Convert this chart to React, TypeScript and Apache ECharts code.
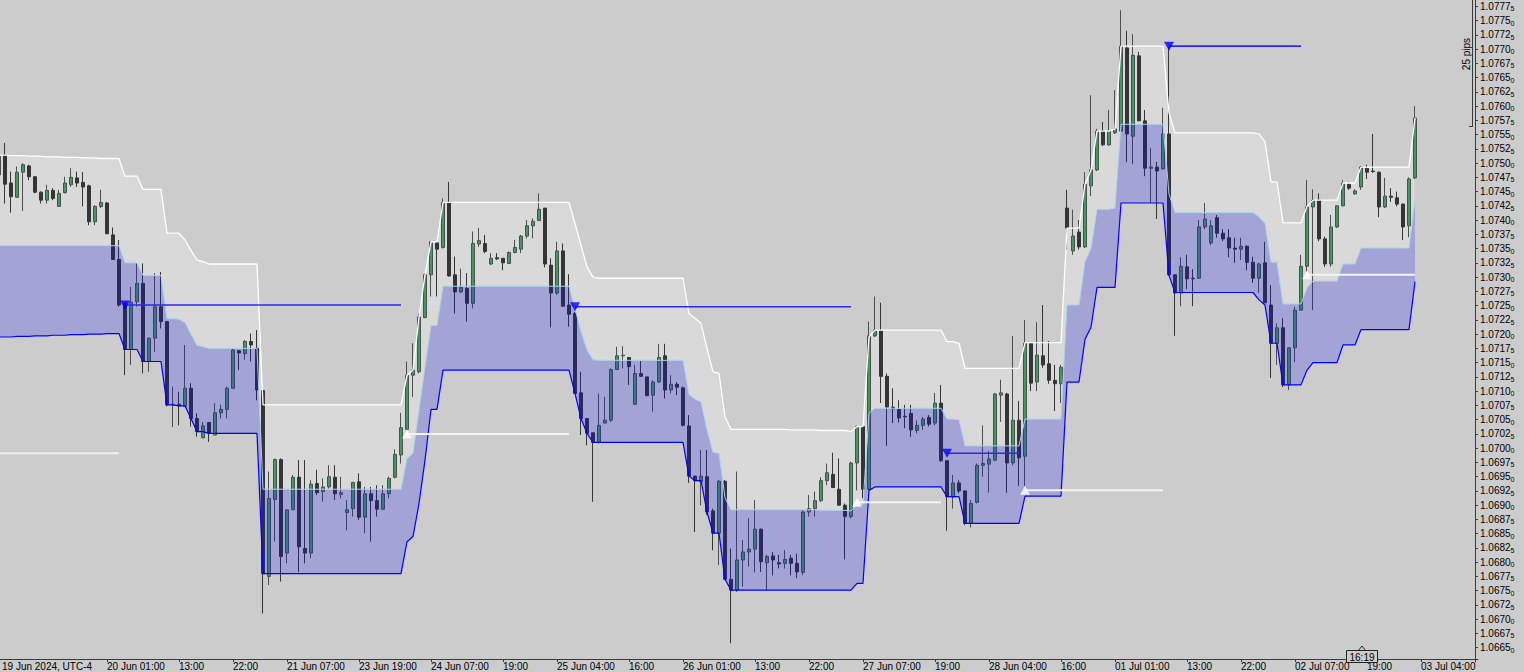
import React, { useEffect, useRef } from "react";
import * as echarts from "echarts";

// Trading sessions (UTC-4): [day, first hour, last hour]
const SESSIONS: [string, number, number][] = [
  ["19 Jun", 7, 23], ["20 Jun", 0, 23], ["21 Jun", 0, 16], ["23 Jun", 17, 23],
  ["24 Jun", 0, 23], ["25 Jun", 0, 23], ["26 Jun", 0, 23], ["27 Jun", 0, 23],
  ["28 Jun", 0, 16], ["30 Jun", 17, 23], ["01 Jul", 0, 23], ["02 Jul", 0, 23], ["03 Jul", 0, 13],
];

const TICK_BARS = [0, 18, 30, 39, 48, 60, 72, 84, 93, 105, 114, 126, 135, 144, 156, 165, 177, 186, 198, 207, 216, 228, 237];
const TICK_LABELS = [
  "19 Jun 2024, UTC-4", "20 Jun 01:00", "13:00", "22:00", "21 Jun 07:00", "23 Jun 19:00",
  "24 Jun 07:00", "19:00", "25 Jun 04:00", "16:00", "26 Jun 01:00", "13:00", "22:00",
  "27 Jun 07:00", "19:00", "28 Jun 04:00", "16:00", "01 Jul 01:00", "13:00", "22:00",
  "02 Jul 07:00", "19:00", "03 Jul 04:00",
];

const OPEN = [
  1.07479,1.07514,1.07465,1.07440,1.07484,1.07495,1.07476,1.07449,1.07435,1.07452,
  1.07424,1.07448,1.07462,1.07474,1.07466,1.07460,1.07397,1.07424,1.07430,1.07374,
  1.07331,1.07254,1.07173,1.07257,1.07289,1.07152,1.07193,1.07248,1.07222,1.07076,
  1.07077,1.07073,1.07105,1.07052,1.07018,1.07045,1.07023,1.07062,1.07068,1.07105,
  1.07171,1.07166,1.07187,1.07175,1.07101,1.06775,1.06910,1.06980,1.06816,1.06892,
  1.06949,1.06824,1.06816,1.06938,1.06924,1.06932,1.06949,1.06919,1.06887,1.06894,
  1.06941,1.06879,1.06920,1.06908,1.06893,1.06920,1.06949,1.06988,1.07033,1.07128,
  1.07134,1.07229,1.07304,1.07360,1.07352,1.07431,1.07304,1.07274,1.07280,1.07254,
  1.07358,1.07359,1.07323,1.07334,1.07333,1.07324,1.07343,1.07349,1.07372,1.07390,
  1.07399,1.07421,1.07321,1.07272,1.07346,1.07251,1.07236,1.07097,1.07052,1.07027,
  1.07010,1.07044,1.07049,1.07138,1.07162,1.07159,1.07077,1.07131,1.07125,1.07093,
  1.07116,1.07162,1.07102,1.07112,1.07106,1.07039,1.06951,1.06941,1.06950,1.06890,
  1.06851,1.06942,1.06770,1.06751,1.06804,1.06818,1.06823,1.06858,1.06799,1.06811,
  1.06799,1.06798,1.06807,1.06798,1.06782,1.06888,1.06894,1.06908,1.06943,1.06954,
  1.06928,1.06900,1.06880,1.06974,1.07038,1.06928,1.07197,1.07206,1.07126,1.07072,
  1.07068,1.07056,1.07061,1.07031,1.07040,1.07054,1.07044,1.07079,1.06978,1.06914,
  1.06939,1.06925,1.06868,1.06905,1.06970,1.06972,1.06979,1.07093,1.07095,1.06974,
  1.07049,1.06986,1.07184,1.07116,1.07162,1.07148,1.07119,1.07113,1.07421,1.07346,
  1.07379,1.07353,1.07460,1.07488,1.07556,1.07532,1.07553,1.07556,1.07702,1.07547,
  1.07688,1.07574,1.07491,1.07493,1.07490,1.07551,1.07304,1.07272,1.07318,1.07298,
  1.07298,1.07388,1.07360,1.07404,1.07377,1.07369,1.07351,1.07349,1.07354,1.07326,
  1.07298,1.07325,1.07251,1.07184,1.07211,1.07111,1.07176,1.07242,1.07319,1.07423,
  1.07435,1.07367,1.07323,1.07388,1.07425,1.07463,1.07446,1.07458,1.07491,1.07486,
  1.07484,1.07423,1.07442,1.07439,1.07428,1.07390,1.07474,
];
const HIGH = [
  1.07523,1.07535,1.07485,1.07494,1.07500,1.07497,1.07477,1.07450,1.07462,1.07456,
  1.07453,1.07476,1.07491,1.07485,1.07484,1.07462,1.07426,1.07453,1.07432,1.07387,
  1.07365,1.07255,1.07283,1.07324,1.07324,1.07193,1.07307,1.07309,1.07222,1.07108,
  1.07099,1.07181,1.07114,1.07061,1.07046,1.07046,1.07079,1.07076,1.07108,1.07175,
  1.07172,1.07190,1.07201,1.07207,1.07102,1.06959,1.06982,1.06982,1.06892,1.06953,
  1.06979,1.06979,1.06944,1.06962,1.06947,1.06970,1.06970,1.06950,1.06909,1.06941,
  1.06956,1.06932,1.06932,1.06935,1.06935,1.06950,1.06998,1.07062,1.07152,1.07184,
  1.07236,1.07307,1.07362,1.07362,1.07438,1.07467,1.07336,1.07315,1.07307,1.07380,
  1.07386,1.07374,1.07342,1.07342,1.07333,1.07345,1.07365,1.07374,1.07400,1.07403,
  1.07447,1.07421,1.07333,1.07362,1.07359,1.07305,1.07239,1.07134,1.07052,1.07027,
  1.07096,1.07090,1.07140,1.07178,1.07179,1.07160,1.07146,1.07153,1.07125,1.07119,
  1.07183,1.07183,1.07128,1.07116,1.07108,1.07058,1.06951,1.06997,1.06997,1.06894,
  1.06944,1.06944,1.06824,1.06959,1.06839,1.06877,1.06909,1.06859,1.06813,1.06818,
  1.06813,1.06821,1.06813,1.06815,1.06892,1.06918,1.06924,1.06949,1.06973,1.06992,
  1.06982,1.06903,1.06976,1.07040,1.07040,1.07222,1.07266,1.07255,1.07131,1.07105,
  1.07084,1.07076,1.07076,1.07049,1.07055,1.07058,1.07097,1.07111,1.06979,1.06953,
  1.06944,1.06926,1.06909,1.06973,1.07040,1.06995,1.07097,1.07120,1.07097,1.07197,
  1.07083,1.07225,1.07185,1.07221,1.07251,1.07188,1.07146,1.07146,1.07453,1.07418,
  1.07400,1.07484,1.07619,1.07560,1.07572,1.07593,1.07628,1.07768,1.07732,1.07726,
  1.07695,1.07593,1.07526,1.07502,1.07597,1.07704,1.07304,1.07335,1.07339,1.07314,
  1.07400,1.07430,1.07400,1.07409,1.07384,1.07384,1.07369,1.07369,1.07356,1.07336,
  1.07325,1.07362,1.07286,1.07219,1.07228,1.07177,1.07248,1.07339,1.07470,1.07454,
  1.07447,1.07371,1.07409,1.07426,1.07470,1.07467,1.07454,1.07495,1.07497,1.07551,
  1.07485,1.07474,1.07456,1.07450,1.07429,1.07475,1.07600,
];
const LOW = [
  1.07474,1.07429,1.07413,1.07439,1.07416,1.07470,1.07447,1.07429,1.07429,1.07435,
  1.07424,1.07447,1.07458,1.07458,1.07424,1.07391,1.07391,1.07421,1.07376,1.07330,
  1.07248,1.07128,1.07146,1.07248,1.07131,1.07134,1.07169,1.07210,1.07073,1.07037,
  1.07040,1.07073,1.07038,1.07020,1.07018,1.07011,1.07023,1.07052,1.07052,1.07105,
  1.07137,1.07155,1.07152,1.07084,1.06710,1.06760,1.06836,1.06766,1.06798,1.06892,
  1.06783,1.06798,1.06807,1.06918,1.06906,1.06929,1.06909,1.06912,1.06856,1.06880,
  1.06874,1.06851,1.06836,1.06880,1.06892,1.06912,1.06947,1.06973,1.07032,1.07090,
  1.07131,1.07228,1.07266,1.07266,1.07350,1.07301,1.07236,1.07272,1.07222,1.07245,
  1.07353,1.07342,1.07321,1.07330,1.07312,1.07323,1.07342,1.07342,1.07368,1.07368,
  1.07399,1.07317,1.07212,1.07269,1.07248,1.07213,1.07096,1.07023,1.07005,1.06906,
  1.07008,1.07044,1.07046,1.07137,1.07140,1.07111,1.07076,1.07125,1.07092,1.07064,
  1.07114,1.07087,1.07096,1.07093,1.07038,1.06939,1.06853,1.06900,1.06883,1.06821,
  1.06795,1.06770,1.06658,1.06748,1.06757,1.06792,1.06782,1.06783,1.06751,1.06777,
  1.06789,1.06789,1.06777,1.06772,1.06777,1.06880,1.06880,1.06906,1.06935,1.06930,
  1.06900,1.06805,1.06877,1.06926,1.06912,1.06926,1.07195,1.07079,1.07004,1.07044,
  1.07045,1.07035,1.07020,1.07026,1.07032,1.07038,1.07040,1.06976,1.06855,1.06894,
  1.06921,1.06865,1.06861,1.06903,1.06950,1.06922,1.06977,1.07046,1.06922,1.06970,
  1.06934,1.06934,1.07100,1.07100,1.07141,1.07113,1.07065,1.07079,1.07348,1.07339,
  1.07348,1.07351,1.07442,1.07486,1.07530,1.07530,1.07551,1.07554,1.07502,1.07498,
  1.07574,1.07477,1.07430,1.07402,1.07488,1.07302,1.07197,1.07249,1.07279,1.07249,
  1.07297,1.07384,1.07356,1.07369,1.07363,1.07335,1.07325,1.07330,1.07312,1.07290,
  1.07272,1.07255,1.07123,1.07146,1.07107,1.07102,1.07151,1.07242,1.07309,1.07242,
  1.07363,1.07318,1.07318,1.07386,1.07424,1.07453,1.07444,1.07453,1.07472,1.07483,
  1.07405,1.07421,1.07432,1.07424,1.07365,1.07370,1.07472,
];
const CLOSE = [
  1.07512,1.07463,1.07441,1.07484,1.07497,1.07476,1.07449,1.07435,1.07452,1.07438,
  1.07447,1.07465,1.07475,1.07465,1.07458,1.07397,1.07424,1.07431,1.07376,1.07331,
  1.07251,1.07173,1.07256,1.07289,1.07152,1.07193,1.07248,1.07222,1.07076,1.07077,
  1.07074,1.07105,1.07052,1.07029,1.07039,1.07026,1.07062,1.07068,1.07105,1.07172,
  1.07167,1.07187,1.07181,1.07102,1.06780,1.06912,1.06980,1.06810,1.06892,1.06949,
  1.06827,1.06816,1.06937,1.06922,1.06932,1.06950,1.06920,1.06922,1.06892,1.06940,
  1.06879,1.06920,1.06908,1.06893,1.06920,1.06947,1.06989,1.07036,1.07128,1.07137,
  1.07230,1.07304,1.07362,1.07349,1.07431,1.07302,1.07274,1.07282,1.07254,1.07359,
  1.07364,1.07345,1.07333,1.07332,1.07325,1.07343,1.07352,1.07372,1.07390,1.07398,
  1.07419,1.07323,1.07272,1.07346,1.07249,1.07235,1.07096,1.07052,1.07026,1.07010,
  1.07040,1.07049,1.07138,1.07162,1.07163,1.07143,1.07131,1.07126,1.07092,1.07116,
  1.07159,1.07102,1.07112,1.07107,1.07040,1.06951,1.06943,1.06951,1.06888,1.06851,
  1.06942,1.06770,1.06751,1.06804,1.06818,1.06823,1.06858,1.06801,1.06810,1.06804,
  1.06797,1.06805,1.06798,1.06783,1.06888,1.06894,1.06908,1.06943,1.06957,1.06931,
  1.06900,1.06880,1.06974,1.07038,1.06928,1.07197,1.07207,1.07126,1.07072,1.07069,
  1.07053,1.07055,1.07032,1.07040,1.07051,1.07042,1.07079,1.06978,1.06915,1.06939,
  1.06925,1.06868,1.06903,1.06970,1.06973,1.06981,1.07095,1.07097,1.06974,1.07049,
  1.06983,1.07184,1.07114,1.07163,1.07146,1.07119,1.07113,1.07142,1.07386,1.07372,
  1.07353,1.07463,1.07488,1.07556,1.07532,1.07556,1.07560,1.07705,1.07551,1.07689,
  1.07574,1.07491,1.07493,1.07486,1.07551,1.07304,1.07272,1.07319,1.07297,1.07297,
  1.07388,1.07402,1.07390,1.07377,1.07367,1.07351,1.07349,1.07354,1.07326,1.07298,
  1.07323,1.07255,1.07184,1.07211,1.07111,1.07176,1.07242,1.07319,1.07423,1.07435,
  1.07367,1.07323,1.07388,1.07425,1.07465,1.07456,1.07451,1.07493,1.07484,1.07485,
  1.07423,1.07442,1.07440,1.07428,1.07388,1.07472,1.07579,
];

const UPPER = [
  1.07514,1.07514,1.07513,1.07513,1.07513,1.07512,1.07512,1.07512,1.07511,1.07511,
  1.07511,1.07510,1.07510,1.07510,1.07509,1.07509,1.07509,1.07508,1.07508,1.07508,
  1.07508,1.07477,1.07477,1.07477,1.07454,1.07454,1.07454,1.07454,1.07377,1.07377,
  1.07377,1.07365,1.07347,1.07330,1.07327,1.07323,1.07323,1.07323,1.07323,1.07323,
  1.07323,1.07323,1.07323,1.07323,1.07076,1.07076,1.07076,1.07076,1.07076,1.07076,
  1.07076,1.07076,1.07076,1.07076,1.07076,1.07076,1.07076,1.07076,1.07076,1.07076,
  1.07076,1.07076,1.07076,1.07076,1.07076,1.07076,1.07076,1.07076,1.07128,1.07137,
  1.07230,1.07304,1.07362,1.07362,1.07431,1.07431,1.07431,1.07431,1.07431,1.07431,
  1.07431,1.07431,1.07431,1.07431,1.07431,1.07431,1.07431,1.07431,1.07431,1.07431,
  1.07431,1.07431,1.07431,1.07431,1.07431,1.07431,1.07394,1.07356,1.07318,1.07300,
  1.07298,1.07298,1.07298,1.07298,1.07298,1.07298,1.07298,1.07298,1.07298,1.07298,
  1.07298,1.07298,1.07298,1.07298,1.07298,1.07236,1.07228,1.07219,1.07175,1.07134,
  1.07131,1.07055,1.07033,1.07033,1.07033,1.07033,1.07033,1.07033,1.07033,1.07033,
  1.07033,1.07033,1.07032,1.07032,1.07032,1.07032,1.07032,1.07031,1.07031,1.07031,
  1.07031,1.07031,1.07029,1.07038,1.07038,1.07195,1.07207,1.07207,1.07207,1.07207,
  1.07207,1.07207,1.07207,1.07207,1.07207,1.07207,1.07207,1.07207,1.07187,1.07187,
  1.07184,1.07140,1.07140,1.07140,1.07140,1.07140,1.07140,1.07140,1.07140,1.07140,
  1.07140,1.07185,1.07185,1.07185,1.07185,1.07185,1.07185,1.07185,1.07386,1.07386,
  1.07386,1.07463,1.07488,1.07556,1.07556,1.07556,1.07560,1.07705,1.07705,1.07705,
  1.07705,1.07705,1.07705,1.07705,1.07705,1.07588,1.07553,1.07553,1.07553,1.07553,
  1.07553,1.07553,1.07553,1.07553,1.07553,1.07553,1.07553,1.07553,1.07553,1.07553,
  1.07551,1.07537,1.07467,1.07467,1.07395,1.07395,1.07395,1.07395,1.07424,1.07435,
  1.07435,1.07435,1.07435,1.07435,1.07465,1.07465,1.07465,1.07493,1.07493,1.07493,
  1.07493,1.07493,1.07493,1.07493,1.07493,1.07493,1.07579,
];
const MID = [
  1.07355,1.07355,1.07355,1.07355,1.07355,1.07355,1.07355,1.07355,1.07355,1.07355,
  1.07355,1.07355,1.07355,1.07355,1.07355,1.07355,1.07355,1.07355,1.07355,1.07355,
  1.07355,1.07325,1.07325,1.07325,1.07303,1.07303,1.07303,1.07303,1.07227,1.07227,
  1.07226,1.07220,1.07200,1.07180,1.07178,1.07175,1.07175,1.07175,1.07175,1.07175,
  1.07175,1.07175,1.07175,1.07175,1.06928,1.06928,1.06928,1.06928,1.06928,1.06928,
  1.06928,1.06928,1.06928,1.06928,1.06928,1.06928,1.06928,1.06928,1.06928,1.06928,
  1.06928,1.06928,1.06928,1.06928,1.06928,1.06928,1.06928,1.06928,1.06982,1.06991,
  1.07067,1.07142,1.07215,1.07215,1.07284,1.07284,1.07284,1.07284,1.07284,1.07284,
  1.07284,1.07284,1.07284,1.07284,1.07284,1.07284,1.07284,1.07284,1.07284,1.07284,
  1.07284,1.07284,1.07284,1.07284,1.07284,1.07284,1.07245,1.07204,1.07172,1.07155,
  1.07154,1.07154,1.07154,1.07154,1.07154,1.07154,1.07154,1.07154,1.07154,1.07154,
  1.07154,1.07154,1.07154,1.07154,1.07154,1.07094,1.07086,1.07081,1.07032,1.06993,
  1.06991,1.06913,1.06892,1.06892,1.06892,1.06892,1.06892,1.06892,1.06892,1.06892,
  1.06892,1.06892,1.06892,1.06892,1.06892,1.06892,1.06892,1.06891,1.06891,1.06891,
  1.06891,1.06891,1.06890,1.06901,1.06901,1.07061,1.07070,1.07070,1.07070,1.07070,
  1.07070,1.07070,1.07070,1.07070,1.07070,1.07070,1.07070,1.07070,1.07051,1.07051,
  1.07050,1.07004,1.07004,1.07004,1.07004,1.07004,1.07004,1.07004,1.07004,1.07004,
  1.07004,1.07051,1.07051,1.07051,1.07051,1.07051,1.07051,1.07051,1.07251,1.07251,
  1.07251,1.07327,1.07350,1.07419,1.07419,1.07419,1.07421,1.07568,1.07568,1.07568,
  1.07568,1.07568,1.07568,1.07568,1.07568,1.07446,1.07413,1.07413,1.07413,1.07413,
  1.07413,1.07413,1.07413,1.07413,1.07413,1.07413,1.07413,1.07413,1.07413,1.07413,
  1.07406,1.07394,1.07326,1.07326,1.07253,1.07253,1.07253,1.07253,1.07281,1.07293,
  1.07293,1.07293,1.07293,1.07293,1.07323,1.07323,1.07323,1.07351,1.07351,1.07351,
  1.07351,1.07351,1.07351,1.07351,1.07351,1.07351,1.07436,
];
const LOWER = [
  1.07195,1.07195,1.07195,1.07196,1.07196,1.07196,1.07197,1.07197,1.07197,1.07198,
  1.07198,1.07198,1.07199,1.07199,1.07199,1.07200,1.07200,1.07200,1.07201,1.07201,
  1.07201,1.07173,1.07173,1.07173,1.07152,1.07152,1.07152,1.07152,1.07076,1.07076,
  1.07074,1.07074,1.07052,1.07029,1.07029,1.07026,1.07026,1.07026,1.07026,1.07026,
  1.07026,1.07026,1.07026,1.07026,1.06780,1.06780,1.06780,1.06780,1.06780,1.06780,
  1.06780,1.06780,1.06780,1.06780,1.06780,1.06780,1.06780,1.06780,1.06780,1.06780,
  1.06780,1.06780,1.06780,1.06780,1.06780,1.06780,1.06780,1.06780,1.06836,1.06845,
  1.06903,1.06979,1.07068,1.07068,1.07137,1.07137,1.07137,1.07137,1.07137,1.07137,
  1.07137,1.07137,1.07137,1.07137,1.07137,1.07137,1.07137,1.07137,1.07137,1.07137,
  1.07137,1.07137,1.07137,1.07137,1.07137,1.07137,1.07096,1.07052,1.07026,1.07010,
  1.07010,1.07010,1.07010,1.07010,1.07010,1.07010,1.07010,1.07010,1.07010,1.07010,
  1.07010,1.07010,1.07010,1.07010,1.07010,1.06951,1.06943,1.06943,1.06888,1.06851,
  1.06851,1.06770,1.06751,1.06751,1.06751,1.06751,1.06751,1.06751,1.06751,1.06751,
  1.06751,1.06751,1.06751,1.06751,1.06751,1.06751,1.06751,1.06751,1.06751,1.06751,
  1.06751,1.06751,1.06751,1.06763,1.06763,1.06926,1.06932,1.06932,1.06932,1.06932,
  1.06932,1.06932,1.06932,1.06932,1.06932,1.06932,1.06932,1.06932,1.06915,1.06915,
  1.06915,1.06868,1.06868,1.06868,1.06868,1.06868,1.06868,1.06868,1.06868,1.06868,
  1.06868,1.06916,1.06916,1.06916,1.06916,1.06916,1.06916,1.06916,1.07116,1.07116,
  1.07116,1.07191,1.07212,1.07282,1.07282,1.07282,1.07282,1.07430,1.07430,1.07430,
  1.07430,1.07430,1.07430,1.07430,1.07430,1.07303,1.07273,1.07273,1.07273,1.07273,
  1.07273,1.07273,1.07273,1.07273,1.07273,1.07273,1.07273,1.07273,1.07273,1.07273,
  1.07260,1.07251,1.07184,1.07184,1.07111,1.07111,1.07111,1.07111,1.07137,1.07150,
  1.07150,1.07150,1.07150,1.07150,1.07181,1.07181,1.07181,1.07208,1.07208,1.07208,
  1.07208,1.07208,1.07208,1.07208,1.07208,1.07208,1.07292,
];

// Signal lines: [from bar, to bar, price]
const SELL_SIGNALS: [number, number, number][] = [
  [21, 67, 1.07251], [96, 142, 1.07248], [158, 170, 1.06991], [195, 217, 1.07705],
];
const BUY_SIGNALS: [number, number, number][] = [
  [68, 95, 1.07025], [143, 157, 1.06905], [171, 194, 1.06926], [218, 236, 1.07304],
];
const BUY_TAIL: [number, number, number] = [0, 20, 1.06991];

const CATEGORIES: string[] = [];
SESSIONS.forEach(([d, a, b]) => {
  for (let h = a; h <= b; h++) CATEGORIES.push(`${d} ${String(h).padStart(2, "0")}:00`);
});

const FONT = "Liberation Sans";
const BG = "#cccccc";
// the chart div is shifted so that the plot may start slightly off-page
const DX = 4;
const DY = 8;

export default function App() {
  const ref = useRef<HTMLDivElement>(null);
  useEffect(() => {
    const chart = echarts.init(ref.current!, null, { renderer: "svg", width: 1524 + DX, height: 672 + DY });
    const labelMap = new Map<string, string>();
    TICK_BARS.forEach((b, j) => labelMap.set(CATEGORIES[b], TICK_LABELS[j]));
    const isTick = (i: number) => TICK_BARS.includes(i);
    const candles = OPEN.map((o, i) => [o, CLOSE[i], LOW[i], HIGH[i]]);
    const grayTop = UPPER.map((u, i) => u - MID[i]);
    const blueTop = MID.map((m, i) => m - LOWER[i]);

    const hidden = { symbol: "none", showSymbol: false, silent: true, lineStyle: { opacity: 0, width: 0 } };
    const series: any[] = [
      { type: "line", data: MID, stack: "gray", z: 1, ...hidden },
      { type: "line", data: grayTop, stack: "gray", z: 1, ...hidden, areaStyle: { color: "#d9d9d9", opacity: 1 } },
      {
        type: "candlestick", data: candles, z: 2, barWidth: 3, silent: true,
        itemStyle: { color: "#3c9b5e", color0: "#353535", borderColor: "#4e4e4e", borderColor0: "#353535", borderWidth: 1 },
      },
      { type: "line", data: LOWER, stack: "blue", z: 3, ...hidden },
      { type: "line", data: blueTop, stack: "blue", z: 3, ...hidden, areaStyle: { color: "rgba(0,0,255,0.2)", opacity: 1 } },
      { type: "line", data: UPPER, z: 4, symbol: "none", silent: true, lineStyle: { color: "#ffffff", width: 1.3 } },
      { type: "line", data: MID, z: 4, symbol: "none", silent: true, lineStyle: { color: "#a9d4ec", width: 1 } },
      { type: "line", data: LOWER, z: 4, symbol: "none", silent: true, lineStyle: { color: "#0000ff", width: 1.2 } },
    ];
    const sig = (s: [number, number, number], color: string, w: number) => ({
      type: "line", data: [[s[0], s[2]], [s[1], s[2]]], z: 5, symbol: "none", silent: true,
      lineStyle: { color, width: w },
    });
    series.push(sig(BUY_TAIL, "#eeeeee", 2));
    SELL_SIGNALS.forEach((s) => series.push(sig(s, "#2a2af0", 1.6)));
    BUY_SIGNALS.forEach((s) => series.push(sig(s, "#f4f4f4", 2)));
    series.push({
      type: "scatter", z: 6, silent: true, symbol: "triangle", symbolRotate: 180, symbolSize: [10, 9],
      itemStyle: { color: "#0000ff" }, data: SELL_SIGNALS.map((s) => [s[0], s[2]]),
    });
    series.push({
      type: "scatter", z: 6, silent: true, symbol: "triangle", symbolSize: [10, 9],
      itemStyle: { color: "#ffffff" }, data: BUY_SIGNALS.map((s) => [s[0], s[2]]),
    });

    chart.setOption({
      animation: false,
      backgroundColor: BG,
      grid: { left: 0, top: 0, width: 1482, height: 670 },
      xAxis: {
        type: "category", data: CATEGORIES, boundaryGap: true, offset: -3,
        axisLine: { lineStyle: { color: "#3a3a3a", width: 1 } },
        axisTick: { show: true, alignWithLabel: true, interval: (i: number) => isTick(i), length: 3, lineStyle: { color: "#3a3a3a" } },
        axisLabel: {
          interval: (i: number) => isTick(i), align: "left", margin: 2,
          color: "#000", fontFamily: FONT, fontSize: 10,
          formatter: (v: string) => {
            const t = labelMap.get(v) || "";
            return v === CATEGORIES[0] ? `{f|${t}}` : t;
          },
          rich: { f: { padding: [0, 0, 0, 3], color: "#000", fontFamily: FONT, fontSize: 10 } },
        },
        splitLine: { show: false },
      },
      yAxis: {
        type: "value", position: "right", min: 1.06625, max: 1.078, interval: 0.00025, offset: -3,
        axisLine: { show: true, lineStyle: { color: "#3a3a3a", width: 1 } },
        axisTick: { show: true, length: 3, lineStyle: { color: "#3a3a3a" } },
        axisLabel: {
          margin: 5, showMinLabel: false, showMaxLabel: false, color: "#000",
          formatter: (v: number) => {
            const s = v.toFixed(5);
            return `{m|${s.slice(0, 6)}}{s|${s.slice(6)}}`;
          },
          rich: {
            m: { fontFamily: FONT, fontSize: 10, color: "#000", lineHeight: 12 },
            s: { fontFamily: FONT, fontSize: 7, color: "#000", verticalAlign: "bottom", lineHeight: 9 },
          },
        },
        splitLine: { show: false },
      },
      series,
      graphic: [
        { type: "line", silent: true, shape: { x1: 1472.5 + DX, y1: 0, x2: 1472.5 + DX, y2: 127 + DY }, style: { stroke: "#3a3a3a", lineWidth: 1 }, z: 10 },
        { type: "line", silent: true, shape: { x1: 1469 + DX, y1: 126.5 + DY, x2: 1473 + DX, y2: 126.5 + DY }, style: { stroke: "#3a3a3a", lineWidth: 1 }, z: 10 },
        {
          type: "text", silent: true, x: 1466 + DX, y: 54 + DY, rotation: Math.PI / 2, z: 10,
          style: { text: "25 pips", fill: "#000", font: `10px "${FONT}"`, align: "center", verticalAlign: "middle" },
        },
        { type: "polyline", silent: true, shape: { points: [[1358 + DX, 651 + DY], [1362 + DX, 646 + DY], [1366 + DX, 651 + DY]] }, style: { stroke: "#222", fill: BG, lineWidth: 1 }, z: 10 },
        { type: "rect", silent: true, shape: { x: 1346.5 + DX, y: 650.5 + DY, width: 31, height: 12 }, style: { stroke: "#222", fill: BG, lineWidth: 1 }, z: 10 },
        {
          type: "text", silent: true, x: 1362 + DX, y: 657 + DY, z: 11,
          style: { text: "16:19", fill: "#000", font: `10px "${FONT}"`, align: "center", verticalAlign: "middle" },
        },
      ],
    });
    return () => chart.dispose();
  }, []);
  return <div ref={ref} style={{ position: "fixed", left: -DX, top: -DY, width: 1524 + DX, height: 672 + DY }} />;
}
